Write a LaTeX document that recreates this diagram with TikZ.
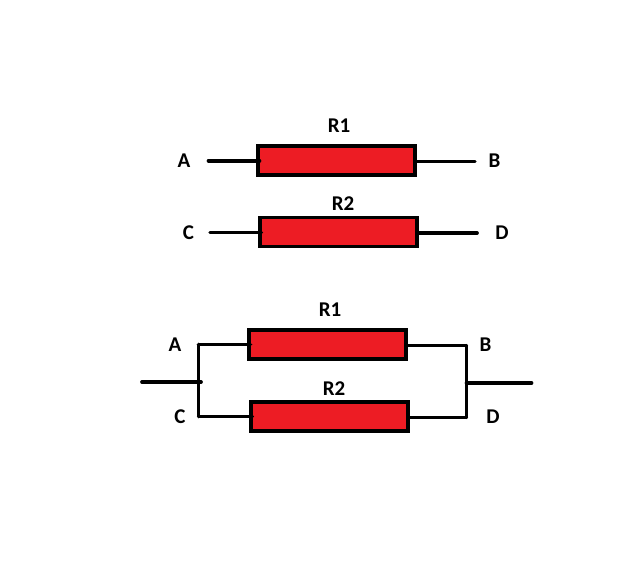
\documentclass[tikz,border=0pt]{standalone}
\usepackage{fontspec}
\setmainfont{Carlito}
\definecolor{paintred}{HTML}{ED1C24}
\tikzset{
  resistor/.style={draw=black,fill=paintred,line width=3.9pt,minimum width=157pt,minimum height=29pt,inner sep=0pt,outer sep=0pt},
  lbl/.style={font=\fontsize{21}{25}\selectfont\bfseries,text=black,inner sep=0pt},
  wire/.style={line width=3.7pt,line cap=round,black},
  thinwire/.style={line width=3.3pt,line cap=round,black}
}
\begin{document}
\begin{tikzpicture}[x=1pt,y=-1pt]
\useasboundingbox[fill=white] (0,0) rectangle (640,587);
% top pair
\node[resistor] (r1) at (336.5,160.5) {};
\node[resistor] (r2) at (338.5,232) {};
\node[lbl] (tr1) at (339,125.7) {R1};
\node[lbl] (tr2) at (343,203.7) {R2};
\node[lbl] (ta) at (184,160.5) {A};
\node[lbl] (tb) at (494.5,160.5) {B};
\node[lbl] (tc) at (188.5,232.5) {C};
\node[lbl] (td) at (502,232.5) {D};
\coordinate (ae) at (208.5,160.7);
\coordinate (be) at (475,161.5);
\coordinate (ce) at (210,232.3);
\coordinate (de) at (477,233);
\draw[wire] (ae) -- ([xshift=1.5pt]ae -| r1.west);
\draw[thinwire] (r1.east |- be) -- (be);
\draw[thinwire] (ce) -- ([xshift=1.5pt]ce -| r2.west);
\draw[wire] (r2.east |- de) -- (de);
% bottom pair
\node[resistor] (s1) at (327.5,344.5) {};
\node[resistor] (s2) at (329.5,416.5) {};
\node[lbl] (br1) at (330,309.7) {R1};
\node[lbl] (br2) at (334,388.7) {R2};
\node[lbl] (ba) at (175,344.5) {A};
\node[lbl] (bb) at (485.5,344.5) {B};
\node[lbl] (bc) at (180,416.5) {C};
\node[lbl] (bd) at (493,416.5) {D};
\coordinate (lt) at (198.5,344.5);
\coordinate (lb) at (198.5,416.5);
\coordinate (inn) at (142,382);
\coordinate (inr) at (201,382);
\coordinate (rt) at (466.5,345.5);
\coordinate (rb) at (466.5,417.5);
\coordinate (rm) at (466.5,383);
\coordinate (out) at (531.5,383);
\draw[wire] (lt) -- (lb);
\draw[wire] (lt) -- ([xshift=1.5pt]s1.west);
\draw[thinwire] (lb) -- ([xshift=1.5pt]s2.west);
\draw[wire] (inn) -- (inr);
\draw[thinwire] (s1.east |- rt) -- (rt);
\draw[thinwire] (s2.east |- rb) -- (rb);
\draw[thinwire] (rt) -- (rb);
\draw[wire] (rm) -- (out);
\end{tikzpicture}
\end{document}
